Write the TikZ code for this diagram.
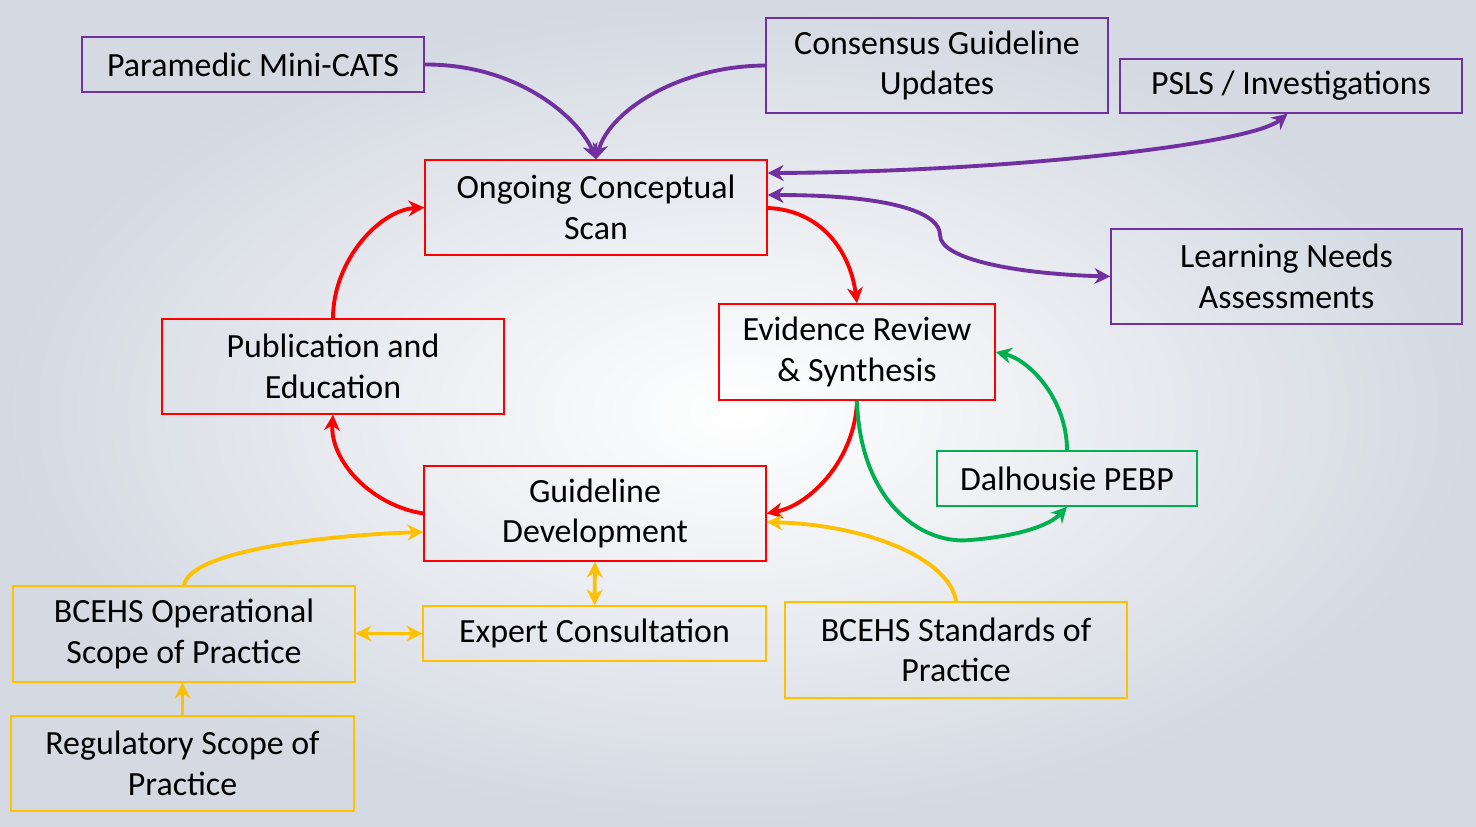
\documentclass[tikz,border=0pt]{standalone}
\usepackage{fontspec}
\setmainfont{Carlito}
\usetikzlibrary{arrows.meta}
\definecolor{cpurple}{RGB}{112,48,160}
\definecolor{cred}{RGB}{255,0,0}
\definecolor{cyellow}{RGB}{255,192,0}
\definecolor{cgreen}{RGB}{0,176,80}
\definecolor{bgedge}{RGB}{212,217,226}
\tikzset{
  box/.style={draw, line width=0.8pt, align=center, inner sep=0pt,
    font=\fontsize{19.3}{23}\selectfont},
  pbox/.style={box, draw=cpurple},
  rbox/.style={box, draw=cred},
  ybox/.style={box, draw=cyellow},
  gbox/.style={box, draw=cgreen},
  con/.style={line width=2.2pt, -{Stealth[length=9pt,width=9pt]}},
  bcon/.style={line width=2.2pt, {Stealth[length=9pt,width=9pt]}-{Stealth[length=9pt,width=9pt]}}
}
\begin{document}
\begin{tikzpicture}[x=0.02cm,y=-0.02cm]
\shade[inner color=white, outer color=bgedge] (0,0) rectangle (1476,826);
\useasboundingbox (0,0) rectangle (1476,826);
% nodes
\node[pbox, minimum width=342*0.02cm, minimum height=55*0.02cm] (mini) at (253,64.5) {Paramedic Mini-CATS};
\node[pbox, minimum width=342*0.02cm, minimum height=95*0.02cm] (cons) at (937,65.5) {Consensus Guideline\\Updates};
\node[pbox, minimum width=342*0.02cm, minimum height=54*0.02cm] (psls) at (1291,86) {PSLS / Investigations};
\node[rbox, minimum width=342*0.02cm, minimum height=95*0.02cm] (scan) at (596,207.5) {Ongoing Conceptual\\Scan};
\node[pbox, minimum width=351*0.02cm, minimum height=95*0.02cm] (learn) at (1286.5,276.5) {Learning Needs\\Assessments};
\node[rbox, minimum width=276*0.02cm, minimum height=96*0.02cm] (evid) at (857,352) {Evidence Review\\\& Synthesis};
\node[rbox, minimum width=342*0.02cm, minimum height=95*0.02cm] (pub) at (333,366.5) {Publication and\\Education};
\node[gbox, minimum width=260*0.02cm, minimum height=55*0.02cm] (dal) at (1067,478.5) {Dalhousie PEBP};
\node[rbox, minimum width=342*0.02cm, minimum height=95*0.02cm] (guide) at (595,513.5) {Guideline\\Development};
\node[ybox, minimum width=342*0.02cm, minimum height=96*0.02cm] (bop) at (184,634) {BCEHS Operational\\Scope of Practice};
\node[ybox, minimum width=343*0.02cm, minimum height=55*0.02cm] (expert) at (594.5,633.5) {Expert Consultation};
\node[ybox, minimum width=342*0.02cm, minimum height=96*0.02cm] (bstd) at (956,650) {BCEHS Standards of\\Practice};
\node[ybox, minimum width=343*0.02cm, minimum height=95*0.02cm] (reg) at (182.5,763.5) {Regulatory Scope of\\Practice};
% purple connectors
\draw[con, cpurple] (mini.east) .. controls (520,64) and (580,120) .. (scan.north);
\draw[con, cpurple] (cons.west) .. controls (680,66) and (610,110) .. (scan.north);
\draw[bcon, cpurple] (scan.east |- 0,173) .. controls (1000,172) and (1250,145) .. ([xshift=-2pt]psls.south);
\draw[bcon, cpurple] (scan.east |- 0,195) .. controls (900,195) and (940,215) .. (940,235)
  .. controls (940,260) and (1020,274) .. (learn.west);
% red cycle
\draw[con, cred] (scan.east |- 0,208) .. controls (820,210) and (850,250) .. (evid.north);
\draw[con, cred] (evid.south) .. controls (855,460) and (810,505) .. (guide.east);
\draw[con, cred] (guide.west) .. controls (370,505) and (330,460) .. (pub.south);
\draw[con, cred] (pub.north) .. controls (333,260) and (380,210) .. (scan.west);
% green
\draw[con, cgreen] (evid.south) .. controls (860,500) and (920,545) .. (970,540) .. controls (1020,536) and (1050,525) .. (dal.south);
\draw[con, cgreen] (dal.north) .. controls (1067,400) and (1030,360) .. (evid.east);
% yellow
\draw[con, cyellow] (bop.north) .. controls (190,550) and (330,535) .. (guide.west |- 0,532);
\draw[con, cyellow] (bstd.north) .. controls (950,560) and (870,525) .. (guide.east |- 0,522);
\draw[bcon, cyellow] (guide.south) -- (expert.north);
\draw[bcon, cyellow] (bop.east |- expert) -- (expert.west);
\draw[con, cyellow] (reg.north) -- (bop.south -| reg.north);
\end{tikzpicture}
\end{document}
